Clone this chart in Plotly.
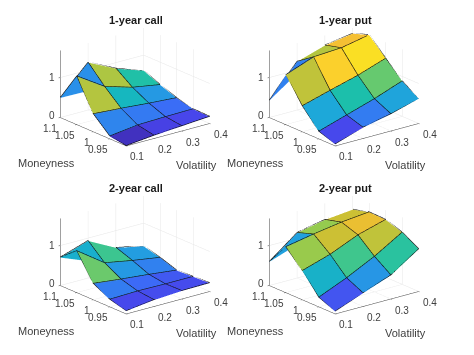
import math
import plotly.graph_objects as go

volatility = [0.1, 0.2, 0.3, 0.4]
moneyness = [1.1, 1.05, 1.0, 0.95, 0.9]
call_1y = [[.49, 1.19, .85, .61], [1.21, .76, .55, .43], [.44, .39, .33, .28], [.06, .15, .17, .18], [0, .07, .12, .17]]
put_1y = [[.42, 1.21, 1.43, 1.54], [1.24, 1.50, 1.54, 1.68], [.64, .84, 1.03, 1.27], [.18, .40, .62, .88], [.04, .27, .42, .62]]
call_2y = [[.70, .93, .57, .42], [1.04, .55, .42, .31], [.40, .32, .25, .17], [.18, .20, .19, .19], [.07, .16, .20, .21]]
put_2y = [[.59, 1.13, 1.27, 1.34], [1.14, 1.27, 1.38, 1.45], [.72, .94, 1.24, 1.44], [.23, .53, .88, 1.30], [.06, .33, .59, 1.06]]
titles = ["1-year call", "1-year put", "2-year call", "2-year put"]
vol_ticks = [0.1, 0.2, 0.3, 0.4]
mon_ticks = [0.95, 1, 1.05, 1.1]
mon_tick_text = ["0.95", "1", "1.05", "1.1"]
z_ticks = [0, 1]

parula = [[0, "#3e26a8"], [.1, "#4845eb"], [.2, "#3b6cf7"], [.3, "#2a90e9"], [.4, "#1ca9d8"],
          [.5, "#13bdb3"], [.6, "#4ac883"], [.7, "#98cb4d"], [.8, "#d5be2f"], [.9, "#fcc035"], [1, "#f9fb15"]]

W, H = 474, 355
FONT = "Liberation Sans"
TICK = dict(family=FONT, size=10, color="#404040")
centers = [(136, 86), (345, 86), (136, 254), (345, 254)]
half_w, half_h = 110, 78
off_x, off_y = -1, 1
az, el = math.radians(38.3), math.radians(19.9)
R = 2.0
SCALE = 1.365
LIFT = 0.012
eye = dict(x=-R * math.sin(az) * math.cos(el), y=-R * math.cos(az) * math.cos(el), z=R * math.sin(el))

fig = go.Figure()
annotations = []
for n, (data, title, (cx, cy)) in enumerate(zip([call_1y, put_1y, call_2y, put_2y], titles, centers), 1):
    sc = "scene" if n == 1 else f"scene{n}"
    xs, ys, zs, I, J, K, cell = [], [], [], [], [], [], []
    for r, m in enumerate(moneyness):
        for c, v in enumerate(volatility):
            xs.append(v); ys.append(m); zs.append(data[r][c])
    nc = len(volatility)
    for r in range(len(moneyness) - 1):
        for c in range(nc - 1):
            a, b, d, e = r * nc + c, r * nc + c + 1, (r + 1) * nc + c, (r + 1) * nc + c + 1
            I += [a, a]; J += [b, e]; K += [e, d]
            cell += [data[r][c], data[r][c]]
    fig.add_trace(go.Mesh3d(x=xs, y=ys, z=zs, i=I, j=J, k=K, intensity=cell, intensitymode="cell",
                            colorscale=parula, cmin=0, cmax=1.62, showscale=False, flatshading=True,
                            lighting=dict(ambient=1, diffuse=0, specular=0, roughness=1, fresnel=0),
                            hoverinfo="skip", scene=sc))
    lx, ly, lz = [], [], []
    for r, m in enumerate(moneyness):
        for c, v in enumerate(volatility):
            lx.append(v); ly.append(m); lz.append(data[r][c] + LIFT)
        lx.append(None); ly.append(None); lz.append(None)
    for c, v in enumerate(volatility):
        for r, m in enumerate(moneyness):
            lx.append(v); ly.append(m); lz.append(data[r][c] + LIFT)
        lx.append(None); ly.append(None); lz.append(None)
    fig.add_trace(go.Scatter3d(x=lx, y=ly, z=lz, mode="lines", line=dict(color="#111111", width=1.2),
                               hoverinfo="skip", showlegend=False, scene=sc))
    common = dict(showbackground=False, gridcolor="#e6e6e6", gridwidth=1, showline=True, linecolor="#404040",
                  linewidth=1, zeroline=False, showspikes=False, ticks="outside", ticklen=2, tickcolor="#404040",
                  showticklabels=False, title=dict(text=""))
    tick_notes = []
    for v in vol_ticks:
        tick_notes.append(dict(x=v, y=0.9, z=0, text=str(v), showarrow=False, font=TICK, xshift=11, yshift=-11))
    for m, t in zip(mon_ticks, mon_tick_text):
        shift = {"1.1": -10, "1.05": -12, "1": -6, "0.95": -12}[t]
        tick_notes.append(dict(x=0.1, y=m, z=0, text=t, showarrow=False, font=TICK, xshift=shift, yshift=-11))
    for z, t in zip(z_ticks, ["0", "1"]):
        tick_notes.append(dict(x=0.1, y=1.1, z=z, text=t, showarrow=False, font=TICK, xshift=-8, yshift=2 if z == 0 else 0))
    sx, sy = cx + off_x, cy + off_y
    scene = dict(
        domain=dict(x=[(sx - half_w) / W, (sx + half_w) / W], y=[1 - (sy + half_h) / H, 1 - (sy - half_h) / H]),
        xaxis=dict(range=[0.1, 0.4], tickvals=vol_ticks, **common),
        yaxis=dict(range=[0.9, 1.1], tickvals=mon_ticks, **common),
        zaxis=dict(range=[0, 1.68], tickvals=z_ticks, **common),
        aspectmode="manual", aspectratio=dict(x=SCALE, y=SCALE, z=0.67 * SCALE),
        annotations=tick_notes,
        camera=dict(eye=eye, up=dict(x=0, y=0, z=1), center=dict(x=0, y=0, z=0), projection=dict(type="orthographic")),
    )
    fig.update_layout({sc: scene})
    dx, dy = cx - 136, cy - 86
    annotations += [
        dict(text=f"<b>{title}</b>", x=(136 + dx) / W, y=1 - (20 + dy) / H, showarrow=False,
             font=dict(family=FONT, size=11, color="#1a1a1a"), xanchor="center", yanchor="middle"),
        dict(text="Moneyness", x=(46 + dx) / W, y=1 - (163 + dy) / H, showarrow=False,
             font=dict(family=FONT, size=11, color="#404040"), xanchor="center", yanchor="middle"),
        dict(text="Volatility", x=(196 + dx) / W, y=1 - (165 + dy) / H, showarrow=False,
             font=dict(family=FONT, size=11, color="#404040"), xanchor="center", yanchor="middle"),
    ]

fig.update_layout(width=W, height=H, margin=dict(l=0, r=0, t=0, b=0), paper_bgcolor="white",
                  showlegend=False, annotations=annotations)
fig.write_html("out.html", config=dict(displayModeBar=False),
               post_script="document.body.style.margin='0';")
